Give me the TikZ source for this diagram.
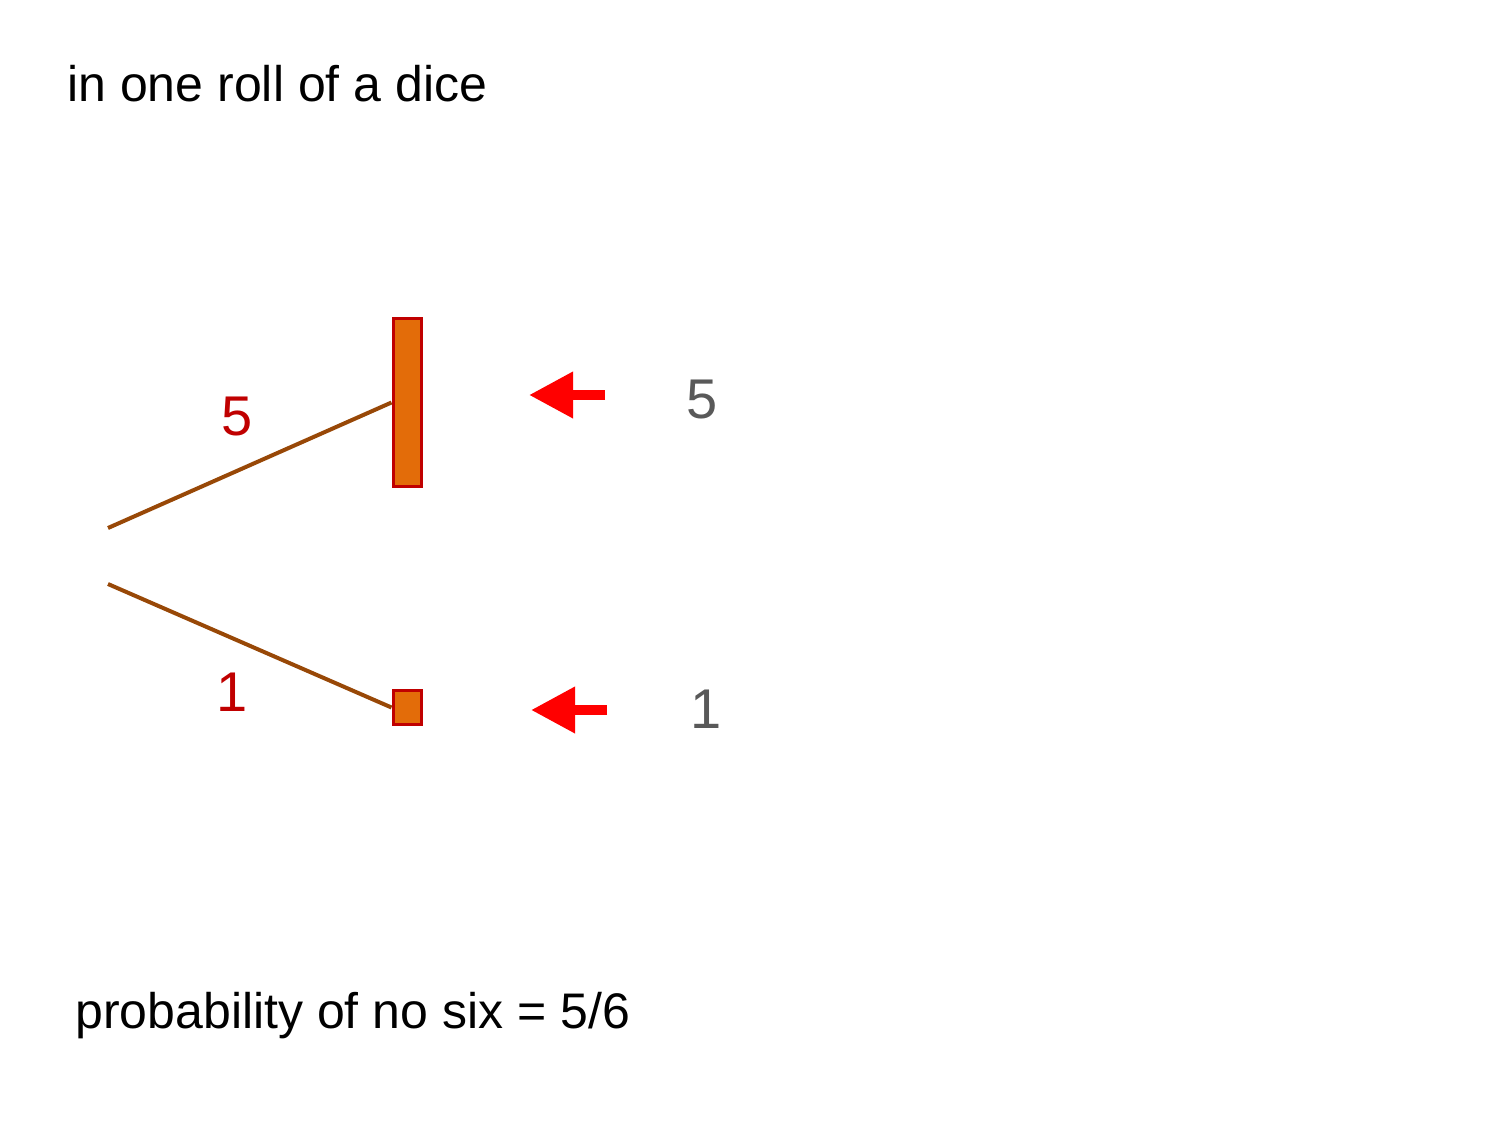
\documentclass[tikz,border=0pt]{standalone}
\usepackage{fontspec}
\setmainfont{Liberation Sans}
\usetikzlibrary{arrows.meta}
\definecolor{branch}{RGB}{152,72,7}
\definecolor{boxfill}{RGB}{227,108,9}
\definecolor{boxline}{RGB}{192,0,0}
\definecolor{labred}{RGB}{192,0,0}
\definecolor{labgray}{RGB}{89,89,89}
\tikzset{
  pbox/.style={draw=boxline, fill=boxfill, line width=1.5pt, inner sep=0pt, minimum width=14pt},
  branchline/.style={draw=branch, line width=2pt},
  redarrow/.style={draw=red, line width=5pt, -{Triangle[length=22pt,width=22pt]}},
  title/.style={font=\fontsize{25}{29}\selectfont, anchor=base west, inner sep=0pt},
  plabel/.style={font=\fontsize{28}{32}\selectfont, text=labred, anchor=base west, inner sep=0pt},
  clabel/.style={font=\fontsize{28}{32}\selectfont, text=labgray, anchor=base west, inner sep=0pt}
}
\begin{document}
\begin{tikzpicture}[x=0.5pt,y=-0.5pt]
\useasboundingbox (0,0) rectangle (1500,1125);
\node[title] (t1) at (67,101) {in one roll of a dice};
\node[title] (t2) at (75,1028) {probability of no six = 5/6};
\node[pbox, minimum height=84pt] (r1) at (407,402.5) {};
\node[pbox, minimum height=17pt] (r2) at (407,707.5) {};
\coordinate (s1) at (108,528);
\coordinate (s2) at (108,584);
\draw[branchline] (s1) -- (r1.west);
\draw[branchline] (s2) -- (r2.west);
\node[plabel] (l5) at (221,435) {5};
\node[plabel] (l1) at (216,711) {1};
\coordinate (a1s) at (605,395);
\coordinate (a1e) at (529,395);
\coordinate (a2s) at (607,710);
\coordinate (a2e) at (531,710);
\draw[redarrow] (a1s) -- (a1e);
\draw[redarrow] (a2s) -- (a2e);
\node[clabel] (c5) at (686,418) {5};
\node[clabel] (c1) at (690,728) {1};
\end{tikzpicture}
\end{document}
